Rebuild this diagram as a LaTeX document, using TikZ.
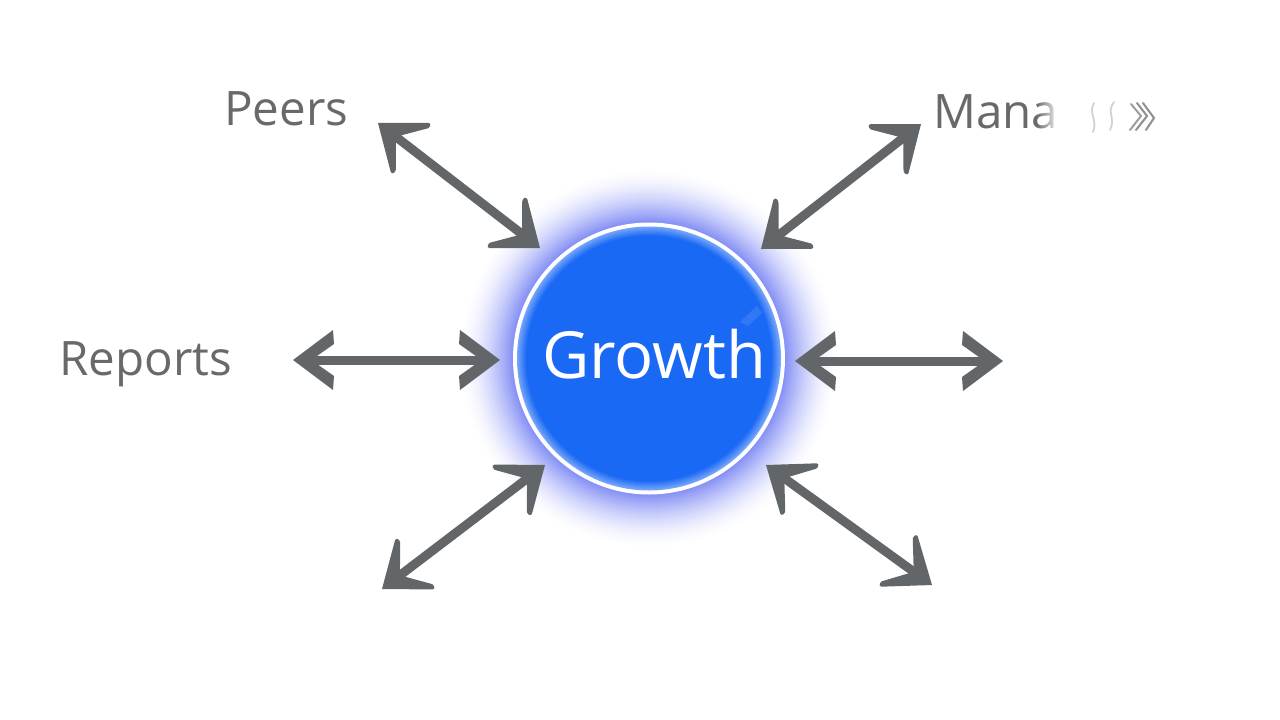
\documentclass[tikz,border=0pt]{standalone}
\usepackage{fontspec}
\setmainfont{Open Sans}
\usetikzlibrary{arrows.meta,fadings}
\definecolor{hubblue}{RGB}{26,105,245}
\definecolor{glowblue}{RGB}{130,142,245}
\definecolor{arrowgrey}{RGB}{98,102,105}
\definecolor{labelgrey}{RGB}{105,105,105}
\pgfdeclarearrow{
  name=BluntHead,
  setup code={\pgfarrowssettipend{0pt}\pgfarrowssetlineend{-20pt}\pgfarrowssetbackend{-41pt}
    \pgfarrowssetvisualbackend{-41pt}},
  drawing code={
    \pgfpathmoveto{\pgfpoint{0pt}{0pt}}
    \pgfpathlineto{\pgfpoint{-40pt}{-30pt}}
    \pgfpathlineto{\pgfpoint{-41pt}{-16pt}}
    \pgfpathlineto{\pgfpoint{-24pt}{-4pt}}
    \pgfpathlineto{\pgfpoint{-24pt}{4pt}}
    \pgfpathlineto{\pgfpoint{-41pt}{16pt}}
    \pgfpathlineto{\pgfpoint{-40pt}{30pt}}
    \pgfpathclose\pgfusepathqfill}
}
\pgfdeclarearrow{
  name=SweptHead,
  setup code={\pgfarrowssettipend{0pt}\pgfarrowssetlineend{-20pt}\pgfarrowssetbackend{-44pt}
    \pgfarrowssetvisualbackend{-44pt}},
  drawing code={
    \pgfpathmoveto{\pgfpoint{0pt}{0pt}}
    \pgfpathlineto{\pgfpoint{-40pt}{-31pt}}
    \pgfpathcurveto{\pgfpoint{-43pt}{-33pt}}{\pgfpoint{-45pt}{-27pt}}{\pgfpoint{-41pt}{-24pt}}
    \pgfpathlineto{\pgfpoint{-26pt}{-4.5pt}}
    \pgfpathlineto{\pgfpoint{-26pt}{4.5pt}}
    \pgfpathlineto{\pgfpoint{-41pt}{24pt}}
    \pgfpathcurveto{\pgfpoint{-45pt}{27pt}}{\pgfpoint{-43pt}{33pt}}{\pgfpoint{-40pt}{31pt}}
    \pgfpathclose\pgfusepathqfill}
}
\tikzset{
  flatarrow/.style={color=arrowgrey,line width=9pt,{BluntHead}-{BluntHead}},
  diagarrow/.style={color=arrowgrey,line width=9pt,{SweptHead}-{SweptHead}},
  sidelabel/.style={text=labelgrey,font=\fontsize{47.5}{47.5}\selectfont,anchor=base west,inner sep=0pt},
  hubnode/.style={circle,minimum size=272pt,inner sep=0pt,fill=white},
  hublabel/.style={text=white,font=\fontsize{65}{65}\selectfont,anchor=base,inner sep=0pt},
  wisp/.style={labelgrey,line cap=round}
}
\begin{document}
\begin{tikzpicture}[x=1pt,y=-1pt]
\useasboundingbox (0,0) rectangle (1280,720);
\fill[white] (0,0) rectangle (1280,720);
% glow: concentric discs from the faint outer rim inwards
\foreach \t in {0,1,...,54}{
  \pgfmathsetmacro{\rr}{190-\t}
  \pgfmathsetmacro{\mixv}{100*pow(\t/54,1.7)}
  \fill[glowblue!\mixv!white] (649,358.5) circle[radius=\rr];
}
% white ring is the hub node itself
\node[hubnode] (hub) at (649,358.5) {};
% disc with a soft lighter rim
\foreach \t in {0,1,...,9}{
  \pgfmathsetmacro{\rr}{132-\t}
  \pgfmathsetmacro{\mixv}{60+40*\t/9}
  \fill[hubblue!\mixv!white] (hub.center) circle[radius=\rr];
}
\node[hublabel] (hubtext) at (654,378) {Growth};
\fill[white,opacity=.1] (740,322) -- (757,306) -- (762,313) -- (748,326) -- cycle;
% labels
\node[sidelabel] (peers) at (224,125.5) {Peers};
\node[sidelabel] (reports) at (59,375) {Reports};
\node[sidelabel] (mana) at (933,128) {Mana};
\fill[white,path fading=west] (1036,88) rectangle (1060,140);
% dissolving remains of the label
\draw[wisp,opacity=.3,line width=1.8pt] (1094,103) .. controls (1088,113) and (1098,120) .. (1093,132);
\draw[wisp,opacity=.3,line width=1.8pt] (1114,102) .. controls (1106,112) and (1116,118) .. (1110,130);
\draw[wisp,opacity=.65,line width=2pt] (1131,104) -- (1141,116) -- (1130,130);
\draw[wisp,opacity=.75,line width=2pt] (1137,103) -- (1147,116) -- (1136,130);
\draw[wisp,opacity=.75,line width=2pt] (1143,103) -- (1154,118) -- (1146,130);
% arrow ends
\coordinate (lo) at (293,360);
\coordinate (li) at (500,360);
\coordinate (ro) at (1003,361);
\coordinate (ri) at (795,361);
\coordinate (tlo) at (378,123);
\coordinate (tli) at (540,248);
\coordinate (tro) at (921,124);
\coordinate (tri) at (761,249);
\coordinate (blo) at (382,589);
\coordinate (bli) at (545,465);
\coordinate (bro) at (932,585);
\coordinate (bri) at (766,465);
\draw[flatarrow] (lo) -- (li);
\draw[flatarrow] (ri) -- (ro);
\draw[diagarrow] (tlo) -- (tli);
\draw[diagarrow] (tri) -- (tro);
\draw[diagarrow] (blo) -- (bli);
\draw[diagarrow] (bri) -- (bro);
\end{tikzpicture}
\end{document}
